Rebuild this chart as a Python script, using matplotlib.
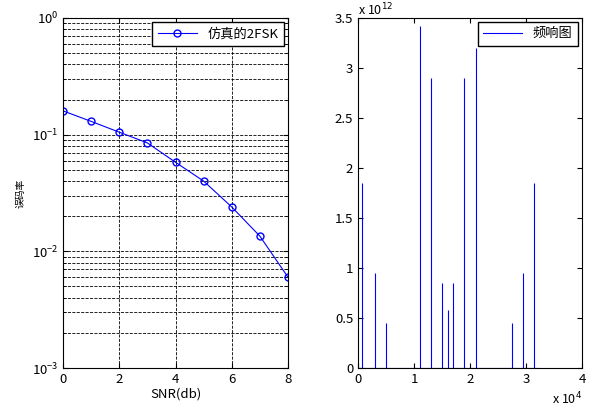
import numpy as np
import matplotlib
matplotlib.use("Agg")
import matplotlib.pyplot as plt

plt.rcParams["font.family"] = ["Noto Sans CJK SC", "DejaVu Sans"]
plt.rcParams["font.size"] = 9.5

snr = [0, 1, 2, 3, 4, 5, 6, 7, 8]
ber = [0.16, 0.13, 0.105, 0.085, 0.058, 0.04, 0.024, 0.0135, 0.006]

freq = [700, 3000, 5000, 11000, 13000, 15000, 16000, 17000, 19000, 21000, 27500, 29500, 31500]
amp = [1.85, 0.95, 0.45, 3.42, 2.9, 0.85, 0.58, 0.85, 2.9, 3.2, 0.45, 0.95, 1.85]
amp_scale = 1e12

fig = plt.figure(figsize=(6.02, 4.15), dpi=100)
ax1 = fig.add_axes([63 / 602, 1 - 368 / 415, 225 / 602, 350 / 415])
ax2 = fig.add_axes([358 / 602, 1 - 368 / 415, 224 / 602, 350 / 415])

ax1.semilogy(snr, ber, "b-o", mfc="none", ms=5, lw=0.8, label="仿真的2FSK")
ax1.set_xlim(0, 8)
ax1.set_ylim(1e-3, 1)
ax1.grid(True, which="both", color="k", ls="--", lw=0.6)
ax1.set_xlabel("SNR(db)", labelpad=1)
ax1.set_ylabel("误码率", fontsize=7)
ax1.legend(loc="upper right", fancybox=False, edgecolor="k", handlelength=3,
           borderaxespad=0.3, framealpha=1)

ax2.vlines(freq, 0, np.array(amp) * amp_scale, color="b", lw=0.8)
ax2.plot([0, 32200], [0, 0], color="b", lw=0.8)
ax2.plot([], [], color="b", lw=0.8, label="频响图")
ax2.set_xlim(0, 40000)
ax2.set_ylim(0, 3.5e12)
ax2.set_xticks([0, 10000, 20000, 30000, 40000])
ax2.set_xticklabels(["0", "1", "2", "3", "4"])
ax2.set_yticks(np.arange(0, 3.51, 0.5) * amp_scale)
ax2.set_yticklabels(["0", "0.5", "1", "1.5", "2", "2.5", "3", "3.5"])
ax2.text(0.0, 1.0, "x 10$^{12}$", transform=ax2.transAxes, va="bottom", fontsize=9)
ax2.text(1.0, -0.065, "x 10$^{4}$", transform=ax2.transAxes, va="top", ha="right", fontsize=9)
ax2.legend(loc="upper right", fancybox=False, edgecolor="k", framealpha=1,
           borderaxespad=0.3, handlelength=3)

for ax in (ax1, ax2):
    ax.tick_params(direction="in", which="both", top=True, right=True)

fig.savefig("out.png", dpi=100)
